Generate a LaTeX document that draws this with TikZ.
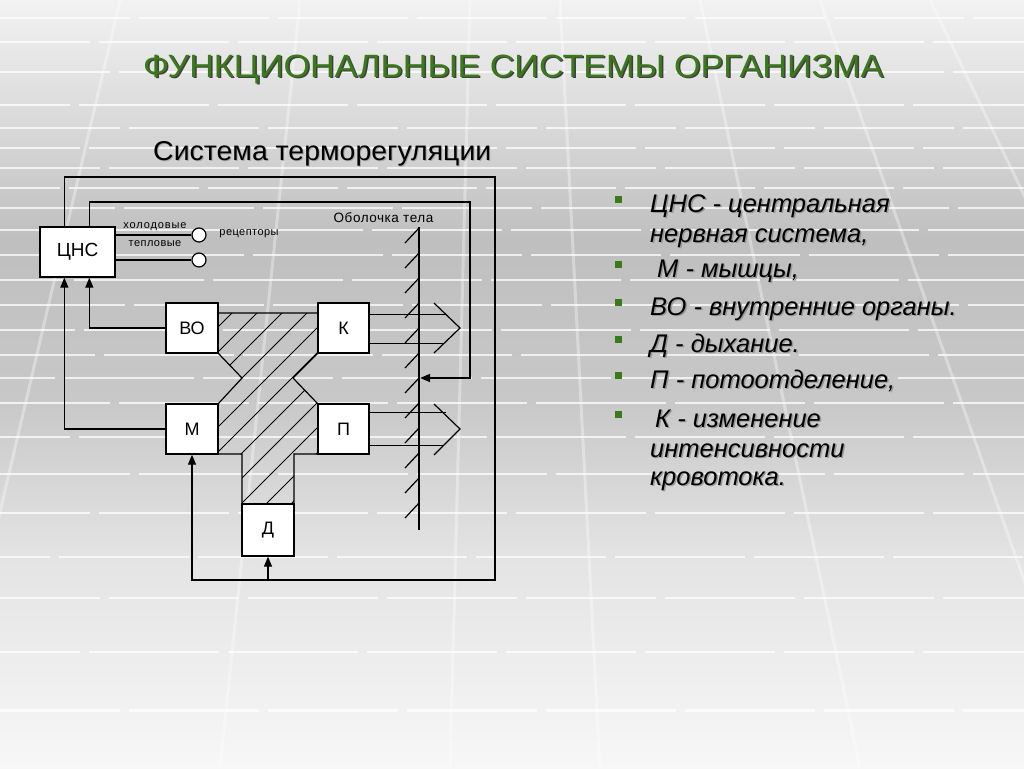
\documentclass[tikz,border=0pt]{standalone}
\usepackage{fontspec}
\setmainfont{Liberation Sans}
\usepackage{graphicx}
\usetikzlibrary{arrows.meta,calc}
\definecolor{tgreen}{HTML}{3B7A1A}
\definecolor{bgreen}{HTML}{3A7A1C}
\definecolor{bg1}{HTML}{F2F2F2}
\definecolor{bg2}{HTML}{DADADA}
\definecolor{bg3}{HTML}{BFBFBF}
\definecolor{bg4}{HTML}{C8C8C8}
\definecolor{bg5}{HTML}{E4E4E4}
\definecolor{bg6}{HTML}{F7F7F7}
\begin{document}
\begin{tikzpicture}[x=1pt,y=-1pt,
  box/.style={draw=black,line width=1.3pt,fill=white,inner sep=0pt,font=\fontsize{18}{20}\selectfont},
  conn/.style={line width=1.2pt,black},
  arr/.style={conn,-{Triangle[length=10pt,width=8pt]}},
  lbl/.style={inner sep=0pt,font=\fontsize{11}{12}\selectfont},
  item/.style={anchor=base west,inner sep=0pt,font=\fontsize{25.5}{28}\itshape\selectfont},
  itemsh/.style={item,text=black!40},
  bul/.style={fill=bgreen,minimum size=7pt,inner sep=0pt},
  rec/.style={circle,draw=black,line width=1.2pt,fill=white,minimum size=14pt,inner sep=0pt},
  grid/.style={white,opacity=.75}]
\useasboundingbox (0,0) rectangle (1024,768);
% background
\shade[top color=bg1,bottom color=bg2] (0,0) rectangle (1024,120);
\shade[top color=bg2,bottom color=bg3] (0,120) rectangle (1024,240);
\shade[top color=bg3,bottom color=bg4] (0,240) rectangle (1024,400);
\shade[top color=bg4,bottom color=bg5] (0,400) rectangle (1024,560);
\shade[top color=bg5,bottom color=bg6] (0,560) rectangle (1024,768);
\foreach \y/\w/\d in {18/1.2/0,42/1.3/40,72/1.4/20,105/1.6/60,128/1.6/10,148/1.8/50,168/1.8/30,188/2/70,208/2/15,230/2/45,255/2/25,280/2/65,305/2/5,330/2/55,355/2/35,378/2/75,403/2.2/20,437/2.2/60,474/2.4/0,513/2.4/40,557/2.6/80,598/2.6/30,652/2.8/50,710/3/10}
  \draw[grid,line width=\w pt,dash pattern=on 130pt off 9pt,dash phase=\d pt] (0,\y) -- (1024,\y);
\foreach \a/\b in {120/-60,300/220,470/450,560/600,700/860,820/1090,930/1300}
  \draw[white,opacity=.35,line width=3pt] (\a,0) -- (\b,768);
% titles
\node[anchor=base west,inner sep=0pt,text=black!75] at (144.5,78.5) {\resizebox{740pt}{22.5pt}{ФУНКЦИОНАЛЬНЫЕ СИСТЕМЫ ОРГАНИЗМА}};
\node[anchor=base west,inner sep=0pt,text=tgreen] (title) at (143,77) {\resizebox{740pt}{22.5pt}{ФУНКЦИОНАЛЬНЫЕ СИСТЕМЫ ОРГАНИЗМА}};
\node[anchor=base west,inner sep=0pt,text=black!35] at (154,161) {\resizebox{338pt}{19pt}{Система терморегуляции}};
\node[anchor=base west,inner sep=0pt] (sub) at (153,160) {\resizebox{338pt}{19pt}{Система терморегуляции}};
% legend
\foreach \x/\y/\t in {650/212/{ЦНС - центральная},650/242/{нервная система,},657/277/{М - мышцы,},650/315/{ВО - внутренние органы.},650/352/{Д - дыхание.},650/388/{П - потоотделение,},655/427/{К - изменение},650/457/{интенсивности},650/485/{кровотока.}}
  {\node[itemsh] at (\x+1.5,\y+1.5) {\t};
   \node[item] at (\x,\y) {\t};}
\foreach \y in {199,264,302,339,375,414}
  \node[bul] at (618,\y) {};
% hatched region
\begin{scope}
\clip (218,313) -- (318,313) -- (318,353) -- (293,378) -- (318,404) -- (318,454) -- (294,454) -- (294,504) -- (242,504) -- (242,454) -- (218,454) -- (218,404) -- (242,378) -- (218,353) -- cycle;
\foreach \c in {495,520,...,845} \draw[line width=1pt] (150,{\c-150}) -- (420,{\c-420});
\end{scope}
\draw[conn] (218,313) -- (318,313) -- (318,353) -- (293,378) -- (318,404) -- (318,454) -- (294,454) -- (294,504) -- (242,504) -- (242,454) -- (218,454) -- (218,404) -- (242,378) -- (218,353) -- cycle;
% boxes
\node[box,minimum width=75pt,minimum height=50pt,font=\fontsize{19}{21}\selectfont] (cns) at (77.5,252) {ЦНС};
\node[box,minimum width=52pt,minimum height=50pt] (vo) at (192,328) {ВО};
\node[box,minimum width=51pt,minimum height=50pt] (k) at (343.5,328) {К};
\node[box,minimum width=52pt,minimum height=50pt] (m) at (192,429) {М};
\node[box,minimum width=51pt,minimum height=50pt] (p) at (343.5,429) {П};
\node[box,minimum width=52pt,minimum height=52pt] (d) at (268,530) {Д};
% receptors
\node[rec] (r1) at (199,235) {};
\node[rec] (r2) at (199,260) {};
\draw[conn] (r1.west -| cns.east) -- (r1.west);
\draw[conn] (r2.west -| cns.east) -- (r2.west);
\node[lbl,font=\fontsize{11}{12}\addfontfeature{LetterSpace=8}\selectfont] at (155,227) {холодовые};
\node[lbl,font=\fontsize{11}{12}\addfontfeature{LetterSpace=4}\selectfont] at (155,243.5) {тепловые};
\node[lbl,font=\fontsize{11}{12}\addfontfeature{LetterSpace=4}\selectfont] at (249,234) {рецепторы};
\node[lbl,font=\fontsize{13.5}{14}\addfontfeature{LetterSpace=4}\selectfont] at (383.5,218) {Оболочка тела};
% body shell
\coordinate (shtop) at (419,227);
\coordinate (shbot) at (419,530);
\draw[conn] (shtop) -- (shbot);
\foreach \i in {0,...,11} \draw[conn] (419,{228+25*\i}) -- ++(-14,15);
% outputs K and P
\draw[conn] ($(k.north east)+(0,12)$) -- ++(76,0);
\draw[conn] ($(k.south east)+(0,-10)$) -- ++(74,0);
\draw[conn] (434,303) -- (460,328) -- (434,353);
\draw[conn] ($(p.north east)+(0,9)$) -- ++(76,0);
\draw[conn] ($(p.south east)+(0,-9)$) -- ++(74,0);
\draw[conn] (434,404) -- (460,429) -- (434,455);
% feedback loops
\coordinate (cA) at ($(cns.south west)+(25,0)$);
\coordinate (cB) at ($(cns.south west)+(50,0)$);
\coordinate (cAt) at ($(cns.north west)+(25,0)$);
\coordinate (cBt) at ($(cns.north west)+(50,0)$);
\coordinate (sharr) at (420,378);
\coordinate (dj) at (268,580);
\draw[arr] (cAt) |- (495,177) |- (192,580) -- (m.south);
\draw[arr] (dj) -- (d.south);
\draw[arr] (cBt) |- (470,202) |- (sharr);
\draw[arr] (vo.west) -| (cB);
\draw[arr] (m.west) -| (cA);
\end{tikzpicture}
\end{document}
